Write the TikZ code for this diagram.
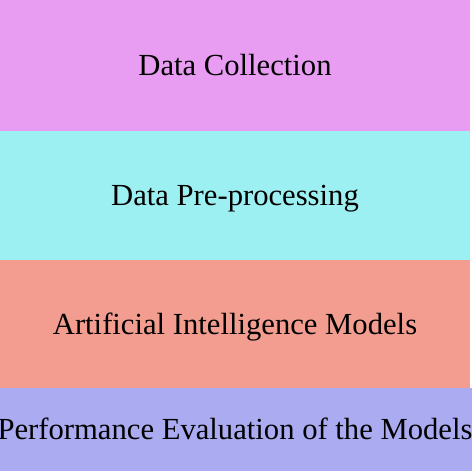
\documentclass[tikz,border=0pt]{standalone}
\usepackage{fontspec}
\setmainfont{Liberation Serif}
\usetikzlibrary{positioning}
\definecolor{collect}{RGB}{233,157,242}
\definecolor{preproc}{RGB}{157,240,242}
\definecolor{aimodel}{RGB}{242,157,143}
\definecolor{perfeval}{RGB}{171,171,242}
\newcommand\blkfont{\fontsize{21.8}{26}\selectfont}
\tikzset{blk/.style={minimum width=11.75cm, inner sep=0, outer sep=0, anchor=north, text height=14.4pt, text depth=0pt, font=\blkfont}}

\begin{document}
\begin{tikzpicture}
    \useasboundingbox (0,0) rectangle (11.85,-11.85);
    \fill[white] (0,0) rectangle (11.85,-11.85);
    \node[blk, fill=collect, minimum height=3.275cm] (DC) at (5.875,0) {Data Collection};
    \node[blk, fill=preproc, minimum height=3.225cm, below=0 of DC] (DP) {Data Pre-processing};
    \node[blk, fill=aimodel, minimum height=3.2cm, below=0 of DP] (AI) {Artificial Intelligence Models};
    \node[blk, fill=perfeval, minimum height=2.075cm, below=0 of AI] (PE) {Performance Evaluation of the Models};
\end{tikzpicture}
\end{document}
